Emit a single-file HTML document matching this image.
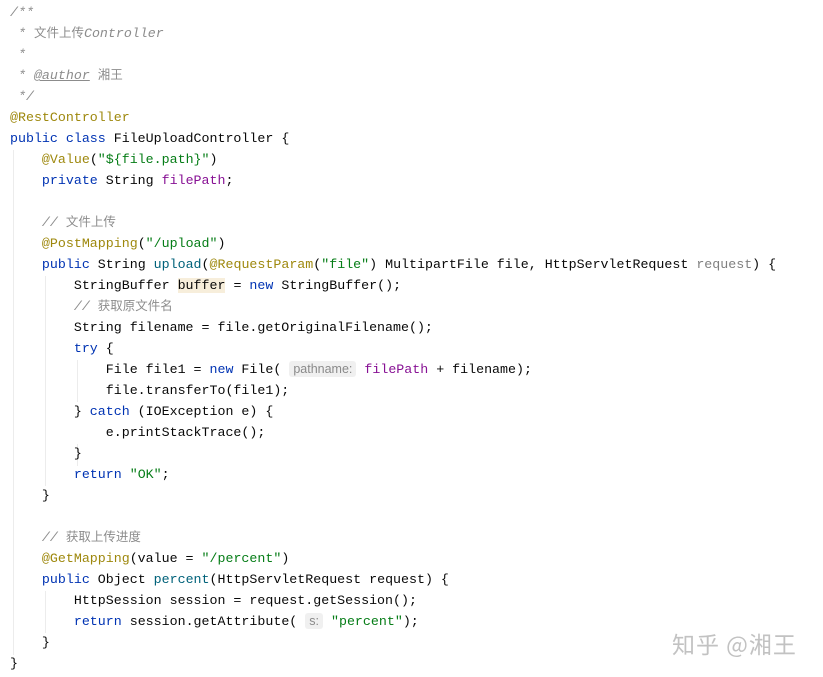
<!DOCTYPE html>
<html><head><meta charset="utf-8"><style>
body{margin:0;background:#fff;width:823px;height:677px;overflow:hidden;position:relative}
#code{position:absolute;left:10px;top:2px;font-family:"Liberation Mono","Noto Sans CJK SC",monospace;font-size:13.3px;color:#080808}
#code div{white-space:pre;height:21px;line-height:21px;overflow:visible}
#code span{line-height:1}
.c{color:#8c8c8c;font-style:italic}
.cz{color:#8c8c8c;font-family:"Noto Sans CJK SC",sans-serif;font-style:normal;font-size:12.5px}
.k{color:#0033b3}
.a{color:#9e880d}
.s{color:#067d17}
.f{color:#871094}
.m{color:#00627a}
.h{background:#f7eedb;}
.hint{background:#f0f0f0;color:#8a8a8a;font-family:"Liberation Sans",sans-serif;font-size:12.5px;border-radius:3px;padding:1px 4px}
.u{text-decoration:underline}
.g{position:absolute;width:1px;background:#ececec}
.wm{position:absolute;left:672px;top:626px;font-family:"Noto Sans CJK SC",sans-serif;font-size:23px;color:#c2c2c2;letter-spacing:1px}
</style></head><body>
<div class="g" style="left:13px;top:150px;height:505px"></div>
<div class="g" style="left:45px;top:276px;height:210px"></div>
<div class="g" style="left:77px;top:360px;height:42px"></div>
<div class="g" style="left:77px;top:444px;height:22px"></div>
<div class="g" style="left:45px;top:591px;height:42px"></div>
<div id="code">
<div><span class="c">/**</span></div>
<div><span class="c"> * <span class="cz">文件上传</span>Controller</span></div>
<div><span class="c"> *</span></div>
<div><span class="c"> * <span class="u">@author</span> <span class="cz">湘王</span></span></div>
<div><span class="c"> */</span></div>
<div><span class="a">@RestController</span></div>
<div><span class="k">public class</span> FileUploadController {</div>
<div>    <span class="a">@Value</span>(<span class="s">"${file.path}"</span>)</div>
<div>    <span class="k">private</span> String <span class="f">filePath</span>;</div>
<div> </div>
<div>    <span class="c">// <span class="cz">文件上传</span></span></div>
<div>    <span class="a">@PostMapping</span>(<span class="s">"/upload"</span>)</div>
<div>    <span class="k">public</span> String <span class="m">upload</span>(<span class="a">@RequestParam</span>(<span class="s">"file"</span>) MultipartFile file, HttpServletRequest <span style="color:#808080">request</span>) {</div>
<div>        StringBuffer <span class="h">buffer</span> = <span class="k">new</span> StringBuffer();</div>
<div>        <span class="c">// <span class="cz">获取原文件名</span></span></div>
<div>        String filename = file.getOriginalFilename();</div>
<div>        <span class="k">try</span> {</div>
<div>            File file1 = <span class="k">new</span> File( <span class="hint">pathname:</span> <span class="f">filePath</span> + filename);</div>
<div>            file.transferTo(file1);</div>
<div>        } <span class="k">catch</span> (IOException e) {</div>
<div>            e.printStackTrace();</div>
<div>        }</div>
<div>        <span class="k">return</span> <span class="s">"OK"</span>;</div>
<div>    }</div>
<div> </div>
<div>    <span class="c">// <span class="cz">获取上传进度</span></span></div>
<div>    <span class="a">@GetMapping</span>(value = <span class="s">"/percent"</span>)</div>
<div>    <span class="k">public</span> Object <span class="m">percent</span>(HttpServletRequest request) {</div>
<div>        HttpSession session = request.getSession();</div>
<div>        <span class="k">return</span> session.getAttribute( <span class="hint">s:</span> <span class="s">"percent"</span>);</div>
<div>    }</div>
<div>}</div>
</div>
<div class="wm">知乎 @湘王</div>
</body></html>
